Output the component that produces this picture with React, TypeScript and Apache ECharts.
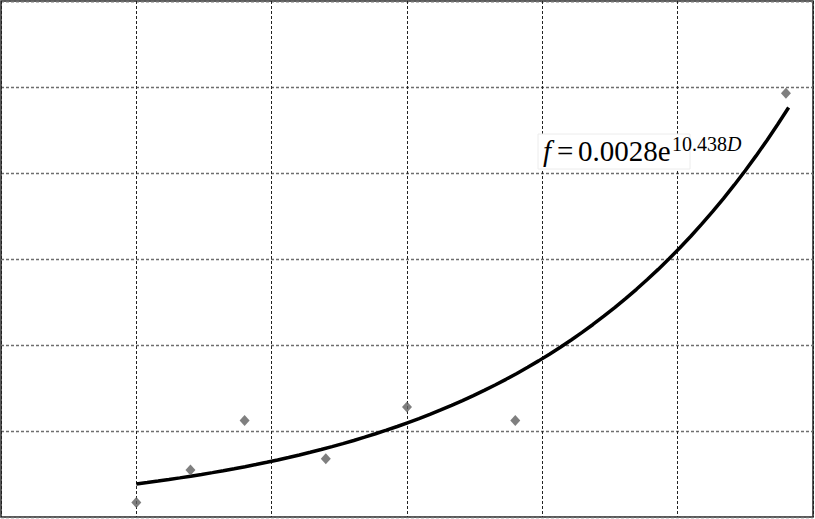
import React, { useEffect, useRef } from "react";
import * as echarts from "echarts";

// Measured data points (D, f)
const pointD = [0.30, 0.32, 0.34, 0.37, 0.40, 0.44, 0.54];
const pointF = [0.028, 0.091, 0.187, 0.113, 0.213, 0.187, 0.821];

// Fitted curve coefficients as printed on the chart: f = A * e^(B * D)
const FIT_A = 0.0028;
const FIT_B = 10.438;
const FIT_D_START = 0.30;
const FIT_D_END = 0.541;
const FIT_STEPS = 60;

// Axis ranges (labels are not shown in the picture)
const X_MIN = 0.25;
const X_MAX = 0.55;
const X_INTERVAL = 0.05;
const Y_MIN = 0;
const Y_MAX = 1;
const Y_INTERVAL = 1 / 6;

export default function App() {
  const ref = useRef<HTMLDivElement>(null);

  useEffect(() => {
    if (!ref.current) return;
    const chart = echarts.init(ref.current, null, { renderer: "svg" });

    const curve: [number, number][] = [];
    for (let i = 0; i <= FIT_STEPS; i++) {
      const d = FIT_D_START + ((FIT_D_END - FIT_D_START) * i) / FIT_STEPS;
      curve.push([d, FIT_A * Math.exp(FIT_B * d)]);
    }
    const points = pointD.map((d, i) => [d, pointF[i]]);

    const family = "Liberation Serif";
    const txt = (
      text: string,
      x: number,
      y: number,
      size: number,
      italic: boolean
    ) => ({
      type: "text",
      z: 101,
      x,
      y,
      style: {
        text,
        fontFamily: family,
        fontSize: size,
        fontStyle: italic ? "italic" : "normal",
        fill: "#000",
        verticalAlign: "middle",
        align: "left",
      },
    });

    chart.setOption({
      animation: false,
      backgroundColor: "#ffffff",
      grid: {
        left: 1,
        right: 2,
        top: 1,
        bottom: 2,
        show: true,
        borderColor: "#222222",
        borderWidth: 1.5,
        backgroundColor: "transparent",
      },
      xAxis: {
        type: "value",
        min: X_MIN,
        max: X_MAX,
        interval: X_INTERVAL,
        axisLine: { show: false },
        axisTick: { show: false },
        axisLabel: { show: false },
        splitLine: {
          show: true,
          lineStyle: { color: "#222222", width: 1, type: [3, 2] },
        },
      },
      yAxis: {
        type: "value",
        min: Y_MIN,
        max: Y_MAX,
        interval: Y_INTERVAL,
        axisLine: { show: false },
        axisTick: { show: false },
        axisLabel: { show: false },
        splitLine: {
          show: true,
          lineStyle: { color: "#6e6e6e", width: 1.3, type: [3, 2] },
        },
      },
      series: [
        {
          type: "line",
          data: curve,
          showSymbol: false,
          symbol: "none",
          lineStyle: { color: "#000000", width: 3.5 },
          z: 3,
        },
        {
          type: "scatter",
          data: points,
          symbol: "diamond",
          symbolSize: [10, 11],
          itemStyle: { color: "#5f5f5f" },
          z: 4,
        },
      ],
      graphic: [
        {
          type: "rect",
          z: 100,
          shape: { x: 538, y: 134, width: 152, height: 35 },
          style: { fill: "#ffffff", stroke: "#ececec", lineWidth: 1 },
        },
        txt("f", 543, 151, 29, true),
        txt("=", 557, 151, 29, false),
        txt("0.0028e", 578, 151, 29, false),
        txt("10.438", 672, 144, 20, false),
        txt("D", 727, 144, 20, true),
      ],
    });

    return () => chart.dispose();
  }, []);

  return (
    <div
      ref={ref}
      style={{ position: "fixed", left: 0, top: 0, width: 815, height: 519 }}
    />
  );
}
